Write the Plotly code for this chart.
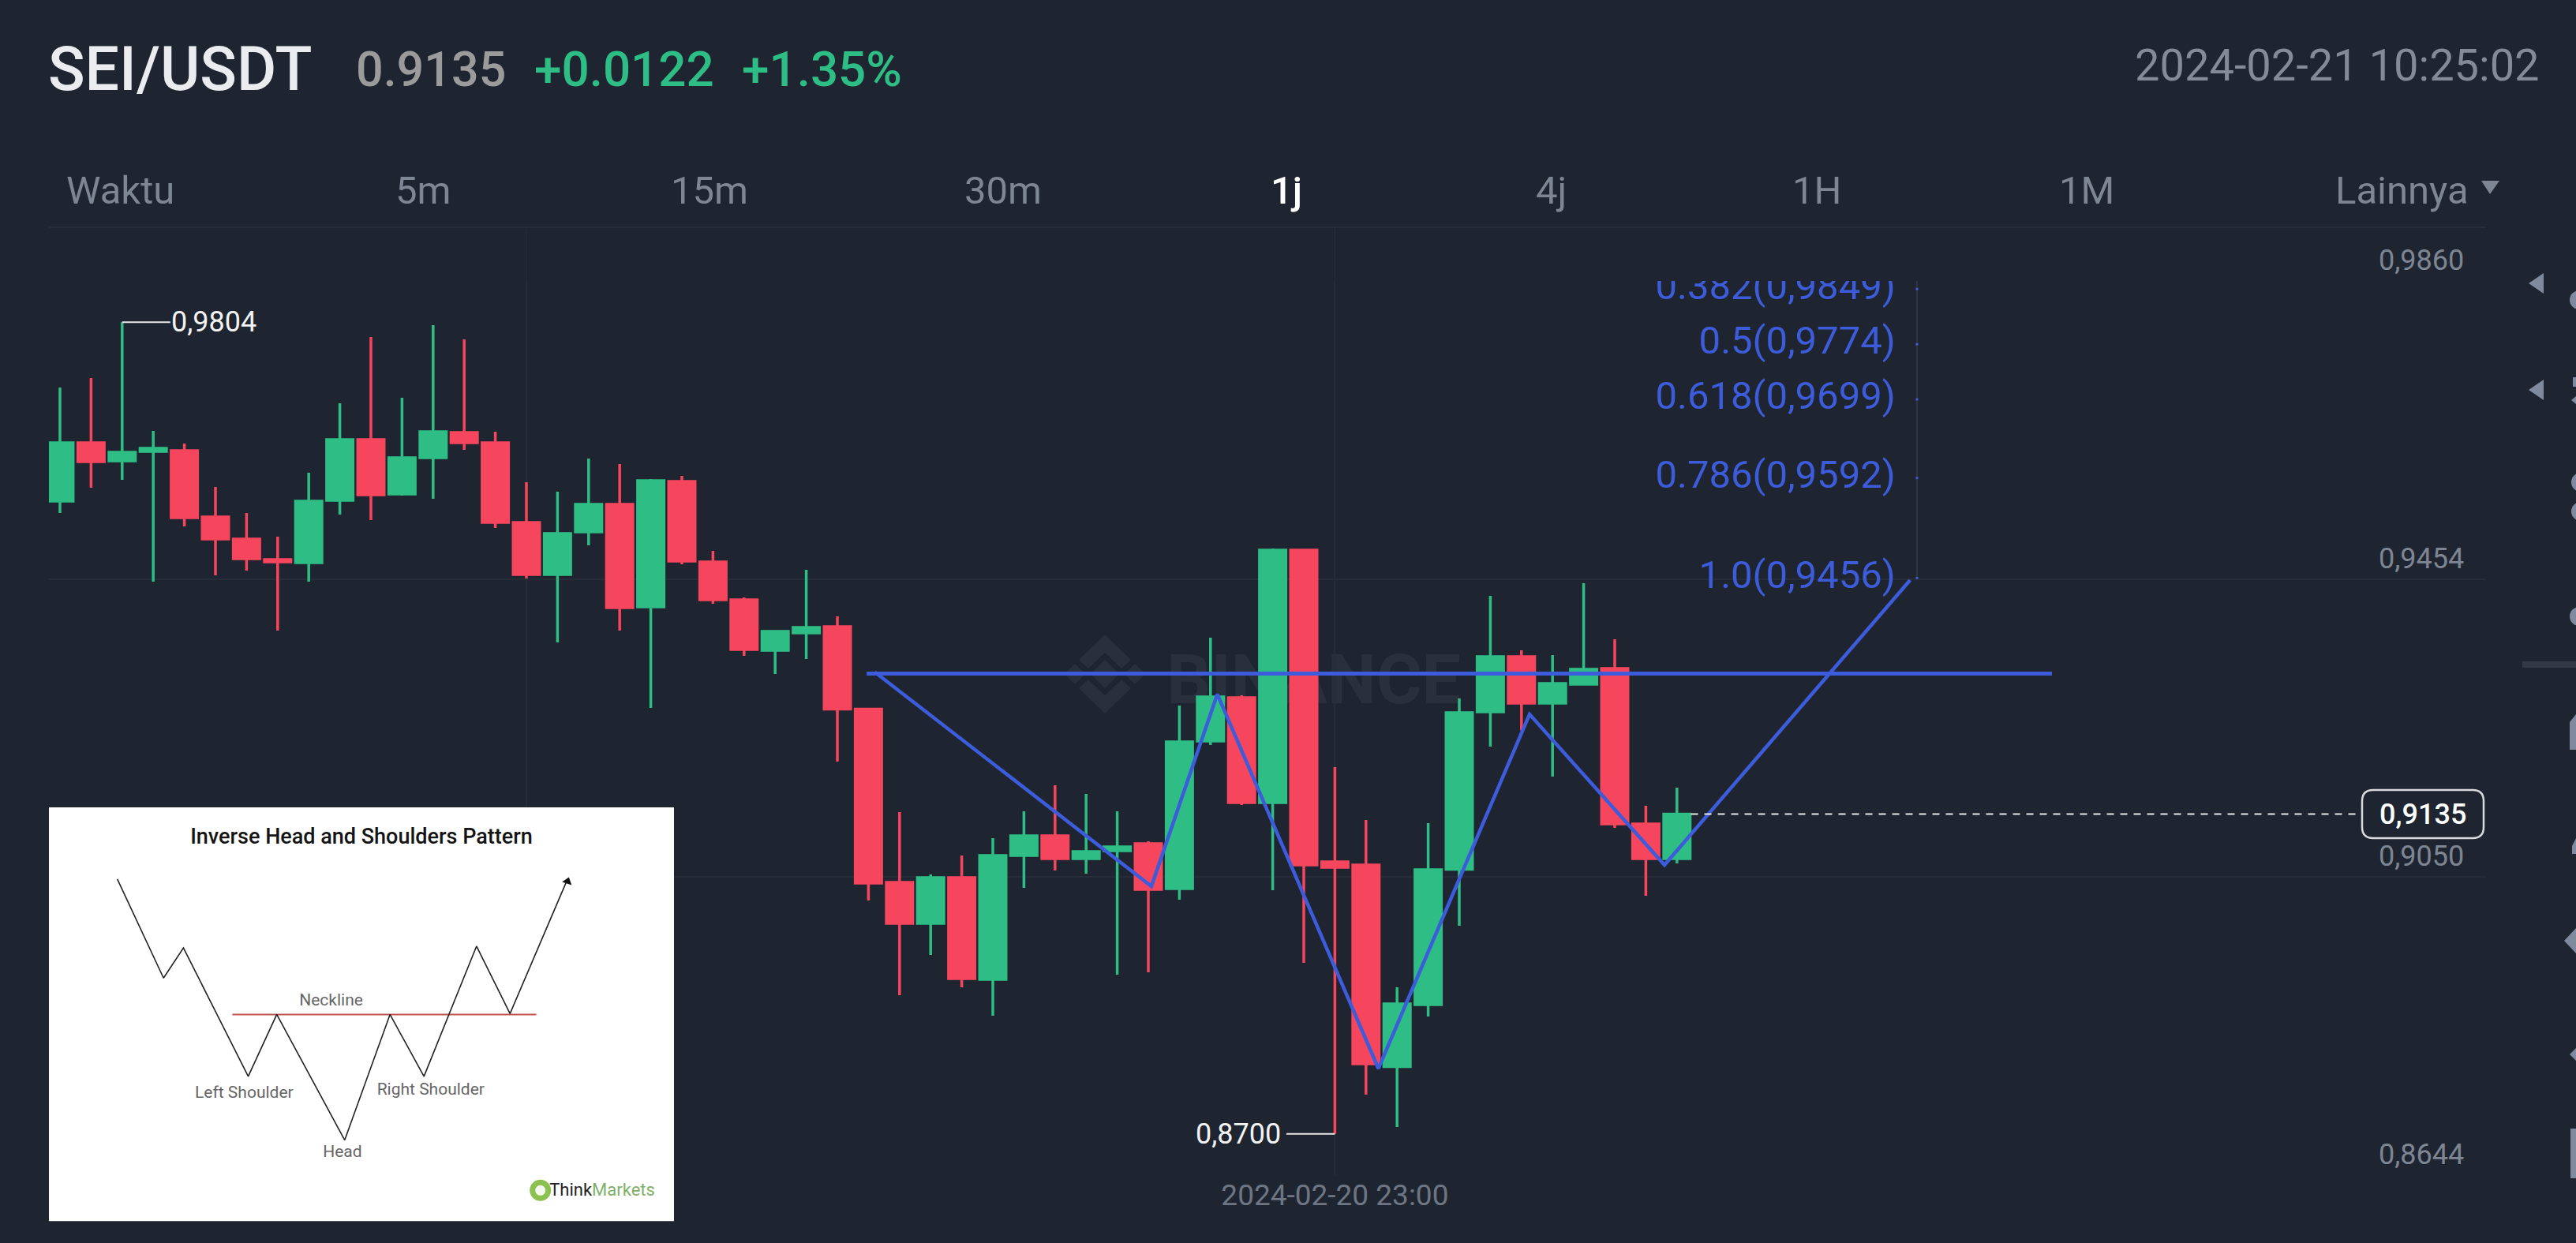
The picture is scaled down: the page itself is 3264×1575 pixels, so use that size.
import plotly.graph_objects as go

W, H = 3264, 1575
BG = "#1e2530"
GREEN = "#2ebd85"
RED = "#f6465d"
BLUE = "#3d5cdb"
GRID = "#272d38"
GREY = "#7e8694"
FONT = "Roboto"

# ---- data ----
candle_index = list(range(53))
opens = [.95605,.96400,.96153,.96282,.96292,.95391,.95090,.94811,.94768,.95616,.96443,.95702,.96196,.96539,.96400,
         .95316,.94607,.95187,.95563,.94167,.95874,.94779,.94264,.93577,.93813,.93899,.92777,.90421,.89863,.90486,
         .89101,.90786,.91055,.90743,.90851,.90947,.90336,.92343,.92933,.91505,.94940,.90701,.90658,.87915,.88758,
         .90598,.92740,.93491,.92858,.93115,.93330,.91216,.90743]
closes = [.96400,.96142,.96271,.96325,.95380,.95090,.94822,.94779,.95605,.96443,.95691,.96196,.96550,.96400,.95316,
          .94607,.95165,.95563,.94157,.95885,.94790,.94264,.93588,.93835,.93888,.92777,.90411,.89863,.90486,.89112,
          .90786,.91055,.90743,.90840,.90904,.90325,.92332,.92944,.91505,.94940,.90658,.90625,.87953,.88769,.90593,
          .92729,.93491,.92858,.93126,.93319,.91216,.90743,.91350]
highs = [.97151,.97280,.98040,.96561,.96389,.95799,.95444,.95122,.95992,.96936,.97838,.97012,.97999,.97806,.96550,
         .95863,.95734,.96185,.96110,.95906,.95949,.94929,.94296,.93845,.94672,.94038,.92790,.91377,.90529,.90786,
         .91023,.91387,.91742,.91624,.91387,.90980,.92826,.93749,.92965,.94962,.94940,.91988,.91269,.88994,.91226,
         .92922,.94318,.93577,.93513,.94489,.93727,.91463,.91710]
lows = [.95444,.95788,.95895,.94511,.95262,.94597,.94661,.93845,.94511,.95423,.95348,.95680,.95638,.96303,.95241,
        .94554,.93684,.95004,.93845,.92793,.94747,.94210,.93502,.93255,.93459,.92064,.90175,.88887,.89434,.88994,
        .88608,.90346,.90582,.90540,.89166,.89198,.90185,.92289,.91473,.90314,.89327,.87000,.87534,.87094,.88597,
        .89831,.92268,.92488,.91860,.93105,.91162,.90239,.90679]

axis_ticks = [0.9860, 0.9454, 0.9050, 0.8644]
axis_labels = ["0,9860", "0,9454", "0,9050", "0,8644"]
time_grid = [15, 41]
time_labels = ["", "2024-02-20 23:00"]

neck_x = [25.94, 64.06]
neck_y = [0.9326, 0.9326]
zig_x = [26.2, 35.1, 37.22, 42.4, 47.26, 51.6, 59.5]
zig_y = [0.93282, 0.90368, 0.9298, 0.87889, 0.92707, 0.90658, 0.94532]

fib_prices = [0.9849, 0.9774, 0.9699, 0.9592, 0.9456]
fib_labels = ["0.382(0,9849)", "0.5(0,9774)", "0.618(0,9699)", "0.786(0,9592)", "1.0(0,9456)"]
fib_text_x = 59.03
fib_axis_x = 59.72

last_price = 0.9135
last_x = [52.45, 73.9]
high_price, high_label = 0.9804, "0,9804"
low_price, low_label = 0.8700, "0,8700"
high_x = [2, 3.55]
low_x = [39.44, 41]

tabs = ["Waktu", "5m", "15m", "30m", "1j", "4j", "1H", "1M", "Lainnya"]
tab_px = [152, 536, 899, 1271, 1630, 1965, 2302, 2644, 3043]

inset_line_x = [258, 360, 404, 547, 610, 760, 860, 935, 1051, 1125, 1252]
inset_line_y = [310, 652, 548, 992, 778, 1212, 778, 992, 542, 775, 310]
inset_neck_x = [512, 1183]
inset_neck_y = [778, 778]
inset_labels = ["Neckline", "Left Shoulder", "Right Shoulder", "Head"]
inset_label_x = [730, 538, 950, 755]
inset_label_y = [733, 1052, 1042, 1257]


# ---- helpers: pixel to paper ----
def px(x):
    return x / W


def py(y):
    return 1 - y / H


fig = go.Figure()

fig.add_trace(go.Candlestick(
    x=candle_index, open=opens, high=highs, low=lows, close=closes,
    increasing=dict(line=dict(color=GREEN, width=3.5), fillcolor=GREEN),
    decreasing=dict(line=dict(color=RED, width=3.5), fillcolor=RED),
    whiskerwidth=0, showlegend=False, hoverinfo="skip",
))

# fib ladder
fig.add_trace(go.Scatter(x=[fib_axis_x, fib_axis_x], y=[axis_ticks[0], fib_prices[-1]], mode="lines",
                         line=dict(color="#363c48", width=1.5), showlegend=False, hoverinfo="skip"))
fig.add_trace(go.Scatter(x=[fib_axis_x] * len(fib_prices), y=fib_prices, mode="markers",
                         marker=dict(symbol="square", size=3, color=BLUE), showlegend=False, hoverinfo="skip"))
fig.add_trace(go.Scatter(x=[fib_text_x] * len(fib_prices), y=fib_prices, mode="text", text=fib_labels,
                         textposition="middle left", textfont=dict(family=FONT, size=49, color=BLUE),
                         cliponaxis=True, showlegend=False, hoverinfo="skip"))

# pattern lines
fig.add_trace(go.Scatter(x=neck_x, y=neck_y, mode="lines", line=dict(color=BLUE, width=5),
                         showlegend=False, hoverinfo="skip"))
fig.add_trace(go.Scatter(x=zig_x, y=zig_y, mode="lines", line=dict(color=BLUE, width=4.5),
                         showlegend=False, hoverinfo="skip"))

# last price, high / low leaders
fig.add_trace(go.Scatter(x=last_x, y=[last_price, last_price], mode="lines",
                         line=dict(color="#e8e8e8", width=2, dash="9px,8px"), showlegend=False, hoverinfo="skip"))
fig.add_trace(go.Scatter(x=high_x, y=[high_price, high_price], mode="lines",
                         line=dict(color="#e8e8e8", width=2), showlegend=False, hoverinfo="skip"))
fig.add_trace(go.Scatter(x=low_x, y=[low_price, low_price], mode="lines",
                         line=dict(color="#e8e8e8", width=2), showlegend=False, hoverinfo="skip"))

# inset
fig.add_trace(go.Scatter(x=[107, 1487, 1487, 107, 107], y=[62, 62, 1493, 1493, 62], xaxis="x2", yaxis="y2",
                         mode="lines", fill="toself", fillcolor="#ffffff", line=dict(color="#ffffff", width=0),
                         showlegend=False, hoverinfo="skip"))
fig.add_trace(go.Scatter(x=inset_neck_x, y=inset_neck_y, xaxis="x2", yaxis="y2", mode="lines",
                         line=dict(color="#c0554f", width=2), showlegend=False, hoverinfo="skip"))
fig.add_trace(go.Scatter(x=inset_line_x, y=inset_line_y, xaxis="x2", yaxis="y2", mode="lines",
                         line=dict(color="#222222", width=1.6), showlegend=False, hoverinfo="skip"))
fig.add_trace(go.Scatter(x=[inset_line_x[-1]], y=[inset_line_y[-1] + 8], xaxis="x2", yaxis="y2", mode="markers",
                         marker=dict(symbol="triangle-up", size=11, color="#111111", angle=18),
                         showlegend=False, hoverinfo="skip"))
fig.add_trace(go.Scatter(x=inset_label_x, y=inset_label_y, xaxis="x2", yaxis="y2", mode="text", text=inset_labels,
                         textposition="middle center", textfont=dict(family=FONT, size=21, color="#666666"),
                         showlegend=False, hoverinfo="skip"))
fig.add_trace(go.Scatter(x=[797], y=[170], xaxis="x2", yaxis="y2", mode="text",
                         text=["Inverse Head and Shoulders Pattern"],
                         textposition="middle center",
                         textfont=dict(family=FONT, size=27, color="#151515", weight=500),
                         showlegend=False, hoverinfo="skip"))
fig.add_trace(go.Scatter(x=[1192], y=[1386], xaxis="x2", yaxis="y2", mode="markers",
                         marker=dict(symbol="circle", size=20, color="#f4f9ee", line=dict(color="#8cc152", width=7)),
                         showlegend=False, hoverinfo="skip"))
fig.add_trace(go.Scatter(x=[1212], y=[1388], xaxis="x2", yaxis="y2", mode="text",
                         text=["Think<span style='color:#7fb069'>Markets</span>"],
                         textposition="middle right", textfont=dict(family=FONT, size=22, color="#222222"),
                         showlegend=False, hoverinfo="skip"))

annotations = []


def note(text, x, y, size, color, anchor="left", weight=400, xref="paper", yref="paper", yanchor="middle"):
    annotations.append(dict(text=text, x=x, y=y, xref=xref, yref=yref, xanchor=anchor, yanchor=yanchor,
                            showarrow=False, borderpad=0,
                            font=dict(family=FONT, size=size, color=color, weight=weight)))


note("SEI/USDT", px(60), py(88), 77, "#eaecef", weight=500)
note("0.9135", px(450), py(88), 61, "#9b9b9b", weight=500)
note("+0.0122", px(676), py(88), 62, GREEN, weight=500)
note("+1.35%", px(939), py(88), 62, GREEN, weight=500)
note("2024-02-21 10:25:02", px(3219), py(83), 56, "#858b96", anchor="right")

for name, x in zip(tabs, tab_px):
    active = name == "1j"
    note(name, px(x), py(242), 49, "#ffffff" if active else GREY, anchor="center", weight=500 if active else 400)

for lab, tick in zip(axis_labels, axis_ticks):
    annotations.append(dict(text=lab, x=px(3123), y=tick, xref="paper", yref="y", xanchor="right", yanchor="bottom",
                            yshift=4, showarrow=False, borderpad=0,
                            font=dict(family=FONT, size=36, color=GREY)))

note(high_label, high_x[1] + 0.0, high_price, 36, "#f2f2f2", xref="x", yref="y")
note(low_label, low_x[0] - 0.15, low_price, 36, "#f2f2f2", anchor="right", xref="x", yref="y")
note("0,9135", px(3070), last_price, 36, "#ffffff", anchor="center", weight=500, yref="y")

shapes = []


def poly(points, color, layer="above"):
    path = "M " + " L ".join(f"{px(a):.5f},{py(b):.5f}" for a, b in points) + " Z"
    shapes.append(dict(type="path", path=path, xref="paper", yref="paper", fillcolor=color,
                       line=dict(width=0), layer=layer))


def rect(x0, y0, x1, y1, color, layer="above"):
    shapes.append(dict(type="rect", x0=px(x0), x1=px(x1), y0=py(y0), y1=py(y1), xref="paper", yref="paper",
                       fillcolor=color, line=dict(width=0), layer=layer))


def dot(cx, cy, r, color):
    shapes.append(dict(type="circle", x0=px(cx - r), x1=px(cx + r), y0=py(cy + r), y1=py(cy - r), xref="paper",
                       yref="paper", fillcolor=color, line=dict(width=0), layer="above"))


# tab bar rule and time grid extension above the plot
rect(62, 287, 3150, 289, GRID)
for t in time_grid:
    shapes.append(dict(type="line", x0=t, x1=t, xref="x", y0=py(289), y1=py(356), yref="paper",
                       line=dict(color=GRID, width=1.5), layer="below"))

# Lainnya triangle
icon = "#7f8a9e"
poly([(3144, 229), (3167, 229), (3155, 246)], GREY)

# right-hand cropped tool icons
poly([(3204, 359), (3223, 346), (3223, 372)], icon)
poly([(3204, 494), (3223, 481), (3223, 507)], icon)
dot(3268, 380, 12, icon)
poly([(3258, 507), (3264, 502), (3264, 512)], icon)
rect(3260, 478, 3264, 490, icon)
dot(3270, 611, 12, icon)
dot(3270, 648, 12, icon)
dot(3268, 781, 12, icon)
rect(3196, 838, 3264, 846, "#333946")
poly([(3256, 950), (3256, 915), (3264, 905), (3264, 950)], icon)
poly([(3259, 1082), (3259, 1072), (3264, 1062), (3264, 1082)], icon)
poly([(3249, 1192), (3264, 1176), (3264, 1208)], icon)
poly([(3256, 1336), (3264, 1328), (3264, 1344)], icon)
rect(3257, 1430, 3264, 1493, icon)

# last-price pill
l, r, t, b, c = 2993, 3147, 1001, 1062, 14
pill = (f"M {px(l+c):.5f},{py(t):.5f} L {px(r-c):.5f},{py(t):.5f} "
        f"Q {px(r):.5f},{py(t):.5f} {px(r):.5f},{py(t+c):.5f} L {px(r):.5f},{py(b-c):.5f} "
        f"Q {px(r):.5f},{py(b):.5f} {px(r-c):.5f},{py(b):.5f} L {px(l+c):.5f},{py(b):.5f} "
        f"Q {px(l):.5f},{py(b):.5f} {px(l):.5f},{py(b-c):.5f} L {px(l):.5f},{py(t+c):.5f} "
        f"Q {px(l):.5f},{py(t):.5f} {px(l+c):.5f},{py(t):.5f} Z")
shapes.append(dict(type="path", path=pill, xref="paper", yref="paper", fillcolor=BG,
                   line=dict(color="#d8dade", width=2.5), layer="above"))

# BINANCE watermark below the candles
MARK = "#2a303b"
shapes.append(dict(type="rect", x0=px(1472), x1=px(1857), y0=py(882), y1=py(826), xref="paper", yref="paper",
                   fillcolor="rgba(0,0,0,0)", line=dict(width=0), layer="below",
                   label=dict(text="<b>BINANCE</b>", textposition="middle center",
                              font=dict(family=FONT, size=88, color=MARK))))
poly([(1400, 836), (1418, 854), (1400, 872), (1382, 854)], MARK, "below")
poly([(1362, 841), (1375, 854), (1362, 867), (1349, 854)], MARK, "below")
poly([(1438, 841), (1451, 854), (1438, 867), (1425, 854)], MARK, "below")
poly([(1400, 804), (1433, 836), (1421, 847), (1400, 827), (1379, 847), (1367, 836)], MARK, "below")
poly([(1400, 904), (1433, 872), (1421, 861), (1400, 881), (1379, 861), (1367, 872)], MARK, "below")

fig.update_layout(
    width=W, height=H,
    margin=dict(l=0, r=0, t=0, b=0),
    paper_bgcolor=BG, plot_bgcolor=BG,
    showlegend=False,
    boxgap=0.15, boxgroupgap=0,
    annotations=annotations, shapes=shapes,
    font=dict(family=FONT, color=GREY),
    xaxis=dict(domain=[px(62), px(3150)], range=[-0.355, 78.02], rangeslider=dict(visible=False),
               tickmode="array", tickvals=time_grid, ticktext=time_labels, showgrid=True, gridcolor=GRID,
               gridwidth=1.5, zeroline=False, showline=False, ticks="",
               tickfont=dict(family=FONT, size=37, color="#6f7683"), anchor="y"),
    yaxis=dict(domain=[py(1489), py(356)], range=[axis_ticks[-1], axis_ticks[0]], tickmode="array",
               tickvals=axis_ticks, showticklabels=False, showgrid=True, gridcolor=GRID, gridwidth=1.5,
               zeroline=False, showline=False, ticks="", anchor="x"),
    xaxis2=dict(domain=[px(62), px(854)], range=[107, 1487], visible=False, anchor="y2"),
    yaxis2=dict(domain=[py(1547.5), py(1023)], range=[1493, 62], visible=False, anchor="x2"),
)

fig.write_html(
    "out.html",
    config={"displayModeBar": False},
    post_script="document.body.style.margin='0';document.body.style.background='#1e2530';"
                "document.documentElement.style.overflow='hidden';",
)
